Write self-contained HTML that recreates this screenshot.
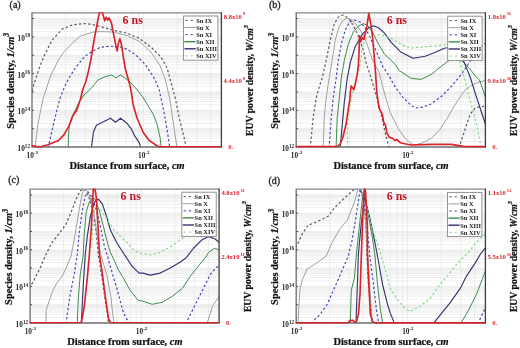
<!DOCTYPE html><html><head><meta charset="utf-8"><style>html,body{margin:0;padding:0;background:#fff;}svg{display:block}text{font-family:"Liberation Serif",serif;font-weight:bold}.t{stroke:#111;stroke-width:0.22px}</style></head><body><svg width="520" height="348" viewBox="0 0 520 348"><rect width="520" height="348" fill="#fff"/><defs><clipPath id="clipa"><rect x="32.0" y="12.9" width="189.4" height="134.1"/></clipPath><clipPath id="clipra"><rect x="31.4" y="12.1" width="190.0" height="135.7"/></clipPath></defs><g stroke="#dedede" stroke-width="0.5" fill="none"><line x1="32.0" y1="141.48" x2="221.4" y2="141.48"/><line x1="32.0" y1="138.24" x2="221.4" y2="138.24"/><line x1="32.0" y1="135.95" x2="221.4" y2="135.95"/><line x1="32.0" y1="134.17" x2="221.4" y2="134.17"/><line x1="32.0" y1="132.72" x2="221.4" y2="132.72"/><line x1="32.0" y1="131.49" x2="221.4" y2="131.49"/><line x1="32.0" y1="130.43" x2="221.4" y2="130.43"/><line x1="32.0" y1="129.49" x2="221.4" y2="129.49"/><line x1="32.0" y1="128.65" x2="221.4" y2="128.65"/><line x1="32.0" y1="123.13" x2="221.4" y2="123.13"/><line x1="32.0" y1="119.89" x2="221.4" y2="119.89"/><line x1="32.0" y1="117.60" x2="221.4" y2="117.60"/><line x1="32.0" y1="115.82" x2="221.4" y2="115.82"/><line x1="32.0" y1="114.37" x2="221.4" y2="114.37"/><line x1="32.0" y1="113.14" x2="221.4" y2="113.14"/><line x1="32.0" y1="112.08" x2="221.4" y2="112.08"/><line x1="32.0" y1="111.14" x2="221.4" y2="111.14"/><line x1="32.0" y1="110.30" x2="221.4" y2="110.30"/><line x1="32.0" y1="104.78" x2="221.4" y2="104.78"/><line x1="32.0" y1="101.54" x2="221.4" y2="101.54"/><line x1="32.0" y1="99.25" x2="221.4" y2="99.25"/><line x1="32.0" y1="97.47" x2="221.4" y2="97.47"/><line x1="32.0" y1="96.02" x2="221.4" y2="96.02"/><line x1="32.0" y1="94.79" x2="221.4" y2="94.79"/><line x1="32.0" y1="93.73" x2="221.4" y2="93.73"/><line x1="32.0" y1="92.79" x2="221.4" y2="92.79"/><line x1="32.0" y1="91.95" x2="221.4" y2="91.95"/><line x1="32.0" y1="86.43" x2="221.4" y2="86.43"/><line x1="32.0" y1="83.19" x2="221.4" y2="83.19"/><line x1="32.0" y1="80.90" x2="221.4" y2="80.90"/><line x1="32.0" y1="79.12" x2="221.4" y2="79.12"/><line x1="32.0" y1="77.67" x2="221.4" y2="77.67"/><line x1="32.0" y1="76.44" x2="221.4" y2="76.44"/><line x1="32.0" y1="75.38" x2="221.4" y2="75.38"/><line x1="32.0" y1="74.44" x2="221.4" y2="74.44"/><line x1="32.0" y1="73.60" x2="221.4" y2="73.60"/><line x1="32.0" y1="68.08" x2="221.4" y2="68.08"/><line x1="32.0" y1="64.84" x2="221.4" y2="64.84"/><line x1="32.0" y1="62.55" x2="221.4" y2="62.55"/><line x1="32.0" y1="60.77" x2="221.4" y2="60.77"/><line x1="32.0" y1="59.32" x2="221.4" y2="59.32"/><line x1="32.0" y1="58.09" x2="221.4" y2="58.09"/><line x1="32.0" y1="57.03" x2="221.4" y2="57.03"/><line x1="32.0" y1="56.09" x2="221.4" y2="56.09"/><line x1="32.0" y1="55.25" x2="221.4" y2="55.25"/><line x1="32.0" y1="49.73" x2="221.4" y2="49.73"/><line x1="32.0" y1="46.49" x2="221.4" y2="46.49"/><line x1="32.0" y1="44.20" x2="221.4" y2="44.20"/><line x1="32.0" y1="42.42" x2="221.4" y2="42.42"/><line x1="32.0" y1="40.97" x2="221.4" y2="40.97"/><line x1="32.0" y1="39.74" x2="221.4" y2="39.74"/><line x1="32.0" y1="38.68" x2="221.4" y2="38.68"/><line x1="32.0" y1="37.74" x2="221.4" y2="37.74"/><line x1="32.0" y1="36.90" x2="221.4" y2="36.90"/><line x1="32.0" y1="31.38" x2="221.4" y2="31.38"/><line x1="32.0" y1="28.14" x2="221.4" y2="28.14"/><line x1="32.0" y1="25.85" x2="221.4" y2="25.85"/><line x1="32.0" y1="24.07" x2="221.4" y2="24.07"/><line x1="32.0" y1="22.62" x2="221.4" y2="22.62"/><line x1="32.0" y1="21.39" x2="221.4" y2="21.39"/><line x1="32.0" y1="20.33" x2="221.4" y2="20.33"/><line x1="32.0" y1="19.39" x2="221.4" y2="19.39"/><line x1="32.0" y1="18.55" x2="221.4" y2="18.55"/><line x1="32.0" y1="13.03" x2="221.4" y2="13.03"/><line x1="65.56" y1="12.9" x2="65.56" y2="147.0"/><line x1="85.19" y1="12.9" x2="85.19" y2="147.0"/><line x1="99.12" y1="12.9" x2="99.12" y2="147.0"/><line x1="109.92" y1="12.9" x2="109.92" y2="147.0"/><line x1="118.75" y1="12.9" x2="118.75" y2="147.0"/><line x1="126.21" y1="12.9" x2="126.21" y2="147.0"/><line x1="132.68" y1="12.9" x2="132.68" y2="147.0"/><line x1="138.38" y1="12.9" x2="138.38" y2="147.0"/><line x1="143.48" y1="12.9" x2="143.48" y2="147.0"/><line x1="177.04" y1="12.9" x2="177.04" y2="147.0"/><line x1="196.67" y1="12.9" x2="196.67" y2="147.0"/><line x1="210.60" y1="12.9" x2="210.60" y2="147.0"/></g><g clip-path="url(#clipa)" fill="none" stroke-linejoin="round" stroke-linecap="butt"><path d="M32.0,91.0 L34.0,84.0 L36.0,78.0 L40.0,66.0 L44.0,56.3 L52.0,40.2 L62.2,29.1 L72.2,25.0 L84.3,23.5 L92.4,24.5 L102.4,27.1 L112.5,30.1 L126.6,33.1 L139.0,38.2 L151.1,47.2 L161.2,57.3 L167.2,68.3 L170.3,80.0 L175.3,98.1 L179.3,118.2 L184.3,138.4 L186.4,148.0" stroke="#606060" stroke-width="1.25" stroke-dasharray="2.4 2.2"/><path d="M35.0,148.0 L35.2,146.8 L37.8,124.8 L43.0,98.9 L50.7,75.5 L58.5,60.0 L63.0,53.0 L72.2,43.2 L80.3,36.2 L92.4,32.2 L100.4,31.6 L112.5,32.0 L127.0,35.5 L139.0,41.2 L151.1,52.3 L160.0,65.5 L165.5,80.0 L169.8,99.0 L173.2,122.0 L177.0,148.0" stroke="#a0a0a0" stroke-width="1.00"/><path d="M48.1,148.0 L53.3,124.8 L59.8,98.9 L64.0,88.0 L68.9,78.1 L75.0,68.5 L81.8,60.0 L84.8,56.3 L92.4,51.2 L100.4,47.2 L110.5,46.2 L120.5,47.2 L127.0,49.2 L135.0,54.3 L145.1,64.3 L153.2,76.4 L155.2,80.0 L159.2,90.1 L163.2,108.2 L167.2,130.3 L169.3,144.4 L169.8,148.0" stroke="#4848b8" stroke-width="1.20" stroke-dasharray="2.4 2.2"/><path d="M68.2,148.0 L68.5,135.0 L69.2,126.3 L74.3,112.2 L80.3,100.1 L85.0,94.0 L91.9,87.7 L97.7,80.2 L102.3,77.9 L106.9,76.1 L111.5,75.0 L116.1,77.9 L120.2,75.0 L124.2,77.3 L127.7,80.2 L132.3,84.2 L138.1,91.1 L142.7,96.9 L147.1,104.2 L153.2,114.2 L157.2,124.3 L160.2,138.4 L161.2,148.0" stroke="#3f8a4f" stroke-width="1.00"/><path d="M91.4,148.0 L93.4,132.3 L96.4,125.3 L102.4,122.3 L110.5,118.2 L115.5,122.3 L120.5,118.2 L127.0,123.3 L131.0,128.3 L135.0,136.4 L139.1,142.4 L141.1,148.0" stroke="#33336f" stroke-width="1.15"/></g><path d="M31.4,12.9 H221.4" stroke="#8a8a8a" stroke-width="1.3" fill="none"/><path d="M32.0,12.9 V147.0 H221.4" stroke="#6e6e6e" stroke-width="1.3" fill="none"/><path d="M221.4,12.3 V147.6" stroke="#3c3c3c" stroke-width="1.3" fill="none"/><path clip-path="url(#clipra)" fill="none" stroke-linejoin="round" d="M31.0,145.5 L36.0,146.4 L40.4,146.7 L48.1,144.8 L58.5,140.5 L63.7,135.1 L68.9,126.1 L72.7,115.7 L76.6,110.5 L80.5,98.9 L83.1,88.5 L85.7,82.0 L88.3,71.7 L90.8,60.0 L93.6,43.0 L96.5,27.2 L98.7,15.7 L99.8,12.0 L102.3,12.0 L103.3,15.7 L104.7,20.8 L106.1,17.2 L107.6,20.0 L109.0,17.9 L110.5,20.8 L111.6,23.5 L113.0,31.6 L114.5,38.7 L115.9,45.9 L117.1,50.9 L118.5,43.0 L119.9,38.7 L121.4,44.5 L122.8,53.1 L123.8,60.0 L125.4,69.2 L127.7,77.3 L130.0,85.4 L131.7,94.6 L133.0,104.2 L137.1,118.2 L143.1,132.3 L149.1,140.4 L157.2,146.0 L160.0,146.7 L223.0,146.7" stroke="#dc2229" stroke-width="1.65"/><line x1="32.0" y1="128.65" x2="34.0" y2="128.65" stroke="#505050" stroke-width="1"/><line x1="32.0" y1="110.30" x2="34.0" y2="110.30" stroke="#505050" stroke-width="1"/><line x1="32.0" y1="91.95" x2="34.0" y2="91.95" stroke="#505050" stroke-width="1"/><line x1="32.0" y1="73.60" x2="34.0" y2="73.60" stroke="#505050" stroke-width="1"/><line x1="32.0" y1="55.25" x2="34.0" y2="55.25" stroke="#505050" stroke-width="1"/><line x1="32.0" y1="36.90" x2="34.0" y2="36.90" stroke="#505050" stroke-width="1"/><line x1="32.0" y1="18.55" x2="34.0" y2="18.55" stroke="#505050" stroke-width="1"/><text x="30.0" y="150.9" font-size="7.3" text-anchor="end" fill="#2a2a2a">10<tspan font-size="5.2" dy="-3.4">12</tspan></text><text x="30.0" y="114.2" font-size="7.3" text-anchor="end" fill="#2a2a2a">10<tspan font-size="5.2" dy="-3.4">14</tspan></text><text x="30.0" y="77.5" font-size="7.3" text-anchor="end" fill="#2a2a2a">10<tspan font-size="5.2" dy="-3.4">16</tspan></text><text x="30.0" y="40.8" font-size="7.3" text-anchor="end" fill="#2a2a2a">10<tspan font-size="5.2" dy="-3.4">18</tspan></text><text x="32.3" y="157.8" font-size="7.3" text-anchor="middle" fill="#2a2a2a">10<tspan font-size="5.0" dy="-3.4">-3</tspan></text><text x="143.8" y="157.8" font-size="7.3" text-anchor="middle" fill="#2a2a2a">10<tspan font-size="5.0" dy="-3.4">-2</tspan></text><text x="223.7" y="18.5" font-size="6.6" fill="#dc1f2c">8.8x10<tspan font-size="4.8" dx="0.9" dy="-3.1">9</tspan></text><text x="223.6" y="83.0" font-size="6.6" fill="#dc1f2c">4.4x10<tspan font-size="4.8" dx="0.9" dy="-3.1">9</tspan></text><text x="228.2" y="148.5" font-size="6.6" fill="#dc1f2c">0.</text><rect x="183.5" y="16.0" width="34.4" height="44.2" fill="#fff" stroke="#888" stroke-width="0.9"/><line x1="185.4" y1="20.4" x2="187.6" y2="20.4" stroke="#606060" stroke-width="1.1"/><line x1="190.6" y1="20.4" x2="192.8" y2="20.4" stroke="#606060" stroke-width="1.1"/><text x="196.3" y="22.7" font-size="6.4" fill="#222">Sn IX</text><line x1="184.4" y1="27.5" x2="195.7" y2="27.5" stroke="#a0a0a0" stroke-width="1.0"/><text x="196.3" y="29.8" font-size="6.4" fill="#222">Sn X</text><line x1="185.4" y1="34.6" x2="187.6" y2="34.6" stroke="#4848b8" stroke-width="1.1"/><line x1="190.6" y1="34.6" x2="192.8" y2="34.6" stroke="#4848b8" stroke-width="1.1"/><text x="196.3" y="36.9" font-size="6.4" fill="#222">Sn XI</text><line x1="184.4" y1="41.7" x2="195.7" y2="41.7" stroke="#3f8a4f" stroke-width="1.4"/><text x="196.3" y="44.0" font-size="6.4" fill="#222">Sn XII</text><line x1="184.4" y1="48.8" x2="195.7" y2="48.8" stroke="#33336f" stroke-width="1.4"/><text x="196.3" y="51.1" font-size="6.4" fill="#222">Sn XIII</text><line x1="185.4" y1="55.9" x2="187.6" y2="55.9" stroke="#90d890" stroke-width="1.1"/><line x1="190.6" y1="55.9" x2="192.8" y2="55.9" stroke="#90d890" stroke-width="1.1"/><text x="196.3" y="58.2" font-size="6.4" fill="#222">Sn XIV</text><text x="122.5" y="23.7" font-size="12" fill="#c8182a">6 ns</text><defs><clipPath id="clipb"><rect x="296.2" y="12.9" width="189.2" height="134.1"/></clipPath><clipPath id="cliprb"><rect x="295.6" y="12.1" width="189.8" height="135.7"/></clipPath></defs><g stroke="#dedede" stroke-width="0.5" fill="none"><line x1="296.2" y1="141.48" x2="485.4" y2="141.48"/><line x1="296.2" y1="138.24" x2="485.4" y2="138.24"/><line x1="296.2" y1="135.95" x2="485.4" y2="135.95"/><line x1="296.2" y1="134.17" x2="485.4" y2="134.17"/><line x1="296.2" y1="132.72" x2="485.4" y2="132.72"/><line x1="296.2" y1="131.49" x2="485.4" y2="131.49"/><line x1="296.2" y1="130.43" x2="485.4" y2="130.43"/><line x1="296.2" y1="129.49" x2="485.4" y2="129.49"/><line x1="296.2" y1="128.65" x2="485.4" y2="128.65"/><line x1="296.2" y1="123.13" x2="485.4" y2="123.13"/><line x1="296.2" y1="119.89" x2="485.4" y2="119.89"/><line x1="296.2" y1="117.60" x2="485.4" y2="117.60"/><line x1="296.2" y1="115.82" x2="485.4" y2="115.82"/><line x1="296.2" y1="114.37" x2="485.4" y2="114.37"/><line x1="296.2" y1="113.14" x2="485.4" y2="113.14"/><line x1="296.2" y1="112.08" x2="485.4" y2="112.08"/><line x1="296.2" y1="111.14" x2="485.4" y2="111.14"/><line x1="296.2" y1="110.30" x2="485.4" y2="110.30"/><line x1="296.2" y1="104.78" x2="485.4" y2="104.78"/><line x1="296.2" y1="101.54" x2="485.4" y2="101.54"/><line x1="296.2" y1="99.25" x2="485.4" y2="99.25"/><line x1="296.2" y1="97.47" x2="485.4" y2="97.47"/><line x1="296.2" y1="96.02" x2="485.4" y2="96.02"/><line x1="296.2" y1="94.79" x2="485.4" y2="94.79"/><line x1="296.2" y1="93.73" x2="485.4" y2="93.73"/><line x1="296.2" y1="92.79" x2="485.4" y2="92.79"/><line x1="296.2" y1="91.95" x2="485.4" y2="91.95"/><line x1="296.2" y1="86.43" x2="485.4" y2="86.43"/><line x1="296.2" y1="83.19" x2="485.4" y2="83.19"/><line x1="296.2" y1="80.90" x2="485.4" y2="80.90"/><line x1="296.2" y1="79.12" x2="485.4" y2="79.12"/><line x1="296.2" y1="77.67" x2="485.4" y2="77.67"/><line x1="296.2" y1="76.44" x2="485.4" y2="76.44"/><line x1="296.2" y1="75.38" x2="485.4" y2="75.38"/><line x1="296.2" y1="74.44" x2="485.4" y2="74.44"/><line x1="296.2" y1="73.60" x2="485.4" y2="73.60"/><line x1="296.2" y1="68.08" x2="485.4" y2="68.08"/><line x1="296.2" y1="64.84" x2="485.4" y2="64.84"/><line x1="296.2" y1="62.55" x2="485.4" y2="62.55"/><line x1="296.2" y1="60.77" x2="485.4" y2="60.77"/><line x1="296.2" y1="59.32" x2="485.4" y2="59.32"/><line x1="296.2" y1="58.09" x2="485.4" y2="58.09"/><line x1="296.2" y1="57.03" x2="485.4" y2="57.03"/><line x1="296.2" y1="56.09" x2="485.4" y2="56.09"/><line x1="296.2" y1="55.25" x2="485.4" y2="55.25"/><line x1="296.2" y1="49.73" x2="485.4" y2="49.73"/><line x1="296.2" y1="46.49" x2="485.4" y2="46.49"/><line x1="296.2" y1="44.20" x2="485.4" y2="44.20"/><line x1="296.2" y1="42.42" x2="485.4" y2="42.42"/><line x1="296.2" y1="40.97" x2="485.4" y2="40.97"/><line x1="296.2" y1="39.74" x2="485.4" y2="39.74"/><line x1="296.2" y1="38.68" x2="485.4" y2="38.68"/><line x1="296.2" y1="37.74" x2="485.4" y2="37.74"/><line x1="296.2" y1="36.90" x2="485.4" y2="36.90"/><line x1="296.2" y1="31.38" x2="485.4" y2="31.38"/><line x1="296.2" y1="28.14" x2="485.4" y2="28.14"/><line x1="296.2" y1="25.85" x2="485.4" y2="25.85"/><line x1="296.2" y1="24.07" x2="485.4" y2="24.07"/><line x1="296.2" y1="22.62" x2="485.4" y2="22.62"/><line x1="296.2" y1="21.39" x2="485.4" y2="21.39"/><line x1="296.2" y1="20.33" x2="485.4" y2="20.33"/><line x1="296.2" y1="19.39" x2="485.4" y2="19.39"/><line x1="296.2" y1="18.55" x2="485.4" y2="18.55"/><line x1="296.2" y1="13.03" x2="485.4" y2="13.03"/><line x1="329.72" y1="12.9" x2="329.72" y2="147.0"/><line x1="349.33" y1="12.9" x2="349.33" y2="147.0"/><line x1="363.25" y1="12.9" x2="363.25" y2="147.0"/><line x1="374.04" y1="12.9" x2="374.04" y2="147.0"/><line x1="382.86" y1="12.9" x2="382.86" y2="147.0"/><line x1="390.31" y1="12.9" x2="390.31" y2="147.0"/><line x1="396.77" y1="12.9" x2="396.77" y2="147.0"/><line x1="402.47" y1="12.9" x2="402.47" y2="147.0"/><line x1="407.56" y1="12.9" x2="407.56" y2="147.0"/><line x1="441.08" y1="12.9" x2="441.08" y2="147.0"/><line x1="460.69" y1="12.9" x2="460.69" y2="147.0"/><line x1="474.61" y1="12.9" x2="474.61" y2="147.0"/></g><g clip-path="url(#clipb)" fill="none" stroke-linejoin="round" stroke-linecap="butt"><path d="M310.1,148.0 L311.1,138.4 L313.1,118.2 L316.1,98.1 L319.5,86.0 L322.2,78.0 L326.2,60.3 L330.2,40.2 L334.2,24.1 L338.3,17.0 L343.3,15.0 L348.3,18.0 L353.3,25.1 L358.4,36.2 L363.5,50.5 L366.2,63.0 L369.2,72.0 L373.9,87.6 L376.5,96.0 L381.3,114.7 L385.7,134.9 L389.1,147.9" stroke="#606060" stroke-width="1.25" stroke-dasharray="2.4 2.2"/><path d="M458.4,148.0 L459.8,145.3 L464.9,129.8 L470.1,114.3 L475.3,107.8 L483.0,106.5 L487.0,106.0" stroke="#606060" stroke-width="1.25" stroke-dasharray="2.4 2.2"/><path d="M323.0,148.0 L323.2,146.4 L324.2,118.2 L326.2,98.1 L328.2,84.0 L329.6,76.0 L332.2,60.3 L335.2,40.2 L339.3,26.1 L343.3,20.1 L347.3,18.0 L352.3,20.1 L357.4,26.1 L362.4,33.5 L366.4,42.4 L372.4,59.7 L379.0,72.0 L383.5,90.0 L390.2,112.5 L398.0,128.2 L405.9,139.4 L413.7,145.0 L421.2,143.4 L431.2,138.4 L439.3,130.3 L447.3,118.2 L455.4,104.2 L463.4,92.1 L471.5,85.0 L479.5,82.0 L487.0,80.0" stroke="#a0a0a0" stroke-width="1.00"/><path d="M329.0,148.0 L329.2,146.4 L331.2,118.2 L333.2,98.1 L336.2,78.0 L338.3,60.3 L341.3,44.2 L345.3,30.1 L349.3,22.1 L354.4,20.1 L360.4,22.1 L365.4,28.1 L371.5,40.2 L377.5,54.3 L382.5,66.0 L386.8,72.2 L395.8,87.9 L402.5,96.8 L411.5,105.8 L416.0,108.0 L423.2,107.0 L431.0,104.0 L441.7,96.2 L452.0,85.8 L462.4,72.9 L467.5,65.2 L472.0,58.0 L478.0,50.0 L487.0,42.0" stroke="#4848b8" stroke-width="1.20" stroke-dasharray="2.4 2.2"/><path d="M336.0,148.0 L336.2,144.4 L337.2,118.2 L339.3,98.1 L341.3,78.0 L344.3,60.3 L348.3,44.2 L353.3,32.1 L358.4,26.1 L363.4,23.7 L367.4,25.1 L372.5,32.1 L378.5,44.2 L384.5,54.3 L390.7,60.0 L395.9,65.2 L399.0,70.4 L411.1,78.4 L421.2,79.4 L431.2,74.4 L441.3,66.3 L449.3,60.3 L455.4,58.3 L461.4,60.3 L469.5,68.3 L475.5,76.4 L479.5,80.0 L483.0,90.0 L487.0,102.0" stroke="#3f8a4f" stroke-width="1.00"/><path d="M340.0,148.0 L340.3,146.4 L342.3,124.3 L344.3,102.1 L347.3,78.0 L350.3,62.3 L355.4,46.2 L362.4,34.1 L368.4,28.1 L373.5,25.7 L378.5,27.7 L384.5,33.1 L391.0,42.2 L401.1,52.3 L413.1,58.3 L425.2,56.3 L435.3,52.3 L444.3,48.2 L452.0,47.0 L458.0,50.0 L462.4,58.3 L467.5,70.4 L470.5,78.0 L475.5,94.1 L481.5,112.2 L487.0,129.0" stroke="#33336f" stroke-width="1.15"/><path d="M347.5,148.0 L347.5,126.0 L349.0,110.0 L352.0,95.0 L356.0,80.0 L358.8,70.0 L361.4,56.6 L362.0,46.0 L366.0,39.0 L372.0,35.5 L380.0,34.5 L391.0,38.2 L401.1,44.2 L411.1,48.2 L421.2,47.2 L431.2,46.2 L441.3,45.2 L449.3,44.2 L455.0,46.0 L458.0,52.0 L461.4,68.3 L464.4,78.0 L468.5,94.1 L473.5,112.2 L477.5,128.3 L480.5,144.4 L481.0,148.0" stroke="#90d890" stroke-width="1.25" stroke-dasharray="2.4 2.2"/></g><path d="M295.6,12.9 H485.4" stroke="#8a8a8a" stroke-width="1.3" fill="none"/><path d="M296.2,12.9 V147.0 H485.4" stroke="#6e6e6e" stroke-width="1.3" fill="none"/><path d="M485.4,12.3 V147.6" stroke="#3c3c3c" stroke-width="1.3" fill="none"/><path clip-path="url(#cliprb)" fill="none" stroke-linejoin="round" d="M295.0,146.6 L337.0,146.4 L340.0,144.4 L342.6,138.3 L346.0,124.5 L348.6,107.2 L349.8,100.0 L350.4,92.2 L351.2,85.9 L353.8,89.9 L355.5,83.0 L357.3,73.8 L358.4,64.6 L359.0,53.0 L359.5,35.9 L360.5,41.9 L362.2,37.6 L364.0,39.3 L366.4,29.1 L368.8,13.5 L370.8,24.1 L372.5,36.2 L374.5,60.3 L375.5,72.0 L376.8,92.4 L379.0,108.0 L382.4,114.7 L383.5,121.5 L385.7,125.9 L386.8,132.6 L389.1,137.1 L392.4,138.2 L394.7,140.5 L396.5,139.5 L400.3,142.7 L404.7,143.8 L411.5,145.0 L431.2,144.4 L451.4,144.4 L463.4,146.4 L487.0,146.6" stroke="#dc2229" stroke-width="1.65"/><line x1="296.2" y1="128.65" x2="298.2" y2="128.65" stroke="#505050" stroke-width="1"/><line x1="296.2" y1="110.30" x2="298.2" y2="110.30" stroke="#505050" stroke-width="1"/><line x1="296.2" y1="91.95" x2="298.2" y2="91.95" stroke="#505050" stroke-width="1"/><line x1="296.2" y1="73.60" x2="298.2" y2="73.60" stroke="#505050" stroke-width="1"/><line x1="296.2" y1="55.25" x2="298.2" y2="55.25" stroke="#505050" stroke-width="1"/><line x1="296.2" y1="36.90" x2="298.2" y2="36.90" stroke="#505050" stroke-width="1"/><line x1="296.2" y1="18.55" x2="298.2" y2="18.55" stroke="#505050" stroke-width="1"/><text x="294.2" y="150.9" font-size="7.3" text-anchor="end" fill="#2a2a2a">10<tspan font-size="5.2" dy="-3.4">12</tspan></text><text x="294.2" y="114.2" font-size="7.3" text-anchor="end" fill="#2a2a2a">10<tspan font-size="5.2" dy="-3.4">14</tspan></text><text x="294.2" y="77.5" font-size="7.3" text-anchor="end" fill="#2a2a2a">10<tspan font-size="5.2" dy="-3.4">16</tspan></text><text x="294.2" y="40.8" font-size="7.3" text-anchor="end" fill="#2a2a2a">10<tspan font-size="5.2" dy="-3.4">18</tspan></text><text x="296.5" y="157.8" font-size="7.3" text-anchor="middle" fill="#2a2a2a">10<tspan font-size="5.0" dy="-3.4">-3</tspan></text><text x="407.9" y="157.8" font-size="7.3" text-anchor="middle" fill="#2a2a2a">10<tspan font-size="5.0" dy="-3.4">-2</tspan></text><text x="487.7" y="18.5" font-size="6.6" fill="#dc1f2c">1.8x10<tspan font-size="4.8" dx="0.9" dy="-3.1">11</tspan></text><text x="487.6" y="83.0" font-size="6.6" fill="#dc1f2c">9.0x10<tspan font-size="4.8" dx="0.9" dy="-3.1">10</tspan></text><text x="492.2" y="148.5" font-size="6.6" fill="#dc1f2c">0.</text><rect x="447.7" y="16.2" width="34.4" height="44.2" fill="#fff" stroke="#888" stroke-width="0.9"/><line x1="449.6" y1="20.6" x2="451.8" y2="20.6" stroke="#606060" stroke-width="1.1"/><line x1="454.8" y1="20.6" x2="457.0" y2="20.6" stroke="#606060" stroke-width="1.1"/><text x="460.5" y="22.9" font-size="6.4" fill="#222">Sn IX</text><line x1="448.6" y1="27.7" x2="459.9" y2="27.7" stroke="#a0a0a0" stroke-width="1.0"/><text x="460.5" y="30.0" font-size="6.4" fill="#222">Sn X</text><line x1="449.6" y1="34.8" x2="451.8" y2="34.8" stroke="#4848b8" stroke-width="1.1"/><line x1="454.8" y1="34.8" x2="457.0" y2="34.8" stroke="#4848b8" stroke-width="1.1"/><text x="460.5" y="37.1" font-size="6.4" fill="#222">Sn XI</text><line x1="448.6" y1="41.9" x2="459.9" y2="41.9" stroke="#3f8a4f" stroke-width="1.4"/><text x="460.5" y="44.2" font-size="6.4" fill="#222">Sn XII</text><line x1="448.6" y1="49.0" x2="459.9" y2="49.0" stroke="#33336f" stroke-width="1.4"/><text x="460.5" y="51.3" font-size="6.4" fill="#222">Sn XIII</text><line x1="449.6" y1="56.1" x2="451.8" y2="56.1" stroke="#90d890" stroke-width="1.1"/><line x1="454.8" y1="56.1" x2="457.0" y2="56.1" stroke="#90d890" stroke-width="1.1"/><text x="460.5" y="58.4" font-size="6.4" fill="#222">Sn XIV</text><text x="386.7" y="23.7" font-size="12" fill="#c8182a">6 ns</text><defs><clipPath id="clipc"><rect x="30.1" y="189.2" width="189.0" height="133.8"/></clipPath><clipPath id="cliprc"><rect x="29.5" y="188.4" width="189.6" height="135.4"/></clipPath></defs><g stroke="#dedede" stroke-width="0.5" fill="none"><line x1="30.1" y1="317.49" x2="219.1" y2="317.49"/><line x1="30.1" y1="314.27" x2="219.1" y2="314.27"/><line x1="30.1" y1="311.98" x2="219.1" y2="311.98"/><line x1="30.1" y1="310.21" x2="219.1" y2="310.21"/><line x1="30.1" y1="308.76" x2="219.1" y2="308.76"/><line x1="30.1" y1="307.53" x2="219.1" y2="307.53"/><line x1="30.1" y1="306.47" x2="219.1" y2="306.47"/><line x1="30.1" y1="305.54" x2="219.1" y2="305.54"/><line x1="30.1" y1="304.70" x2="219.1" y2="304.70"/><line x1="30.1" y1="299.19" x2="219.1" y2="299.19"/><line x1="30.1" y1="295.97" x2="219.1" y2="295.97"/><line x1="30.1" y1="293.68" x2="219.1" y2="293.68"/><line x1="30.1" y1="291.91" x2="219.1" y2="291.91"/><line x1="30.1" y1="290.46" x2="219.1" y2="290.46"/><line x1="30.1" y1="289.23" x2="219.1" y2="289.23"/><line x1="30.1" y1="288.17" x2="219.1" y2="288.17"/><line x1="30.1" y1="287.24" x2="219.1" y2="287.24"/><line x1="30.1" y1="286.40" x2="219.1" y2="286.40"/><line x1="30.1" y1="280.89" x2="219.1" y2="280.89"/><line x1="30.1" y1="277.67" x2="219.1" y2="277.67"/><line x1="30.1" y1="275.38" x2="219.1" y2="275.38"/><line x1="30.1" y1="273.61" x2="219.1" y2="273.61"/><line x1="30.1" y1="272.16" x2="219.1" y2="272.16"/><line x1="30.1" y1="270.93" x2="219.1" y2="270.93"/><line x1="30.1" y1="269.87" x2="219.1" y2="269.87"/><line x1="30.1" y1="268.94" x2="219.1" y2="268.94"/><line x1="30.1" y1="268.10" x2="219.1" y2="268.10"/><line x1="30.1" y1="262.59" x2="219.1" y2="262.59"/><line x1="30.1" y1="259.37" x2="219.1" y2="259.37"/><line x1="30.1" y1="257.08" x2="219.1" y2="257.08"/><line x1="30.1" y1="255.31" x2="219.1" y2="255.31"/><line x1="30.1" y1="253.86" x2="219.1" y2="253.86"/><line x1="30.1" y1="252.63" x2="219.1" y2="252.63"/><line x1="30.1" y1="251.57" x2="219.1" y2="251.57"/><line x1="30.1" y1="250.64" x2="219.1" y2="250.64"/><line x1="30.1" y1="249.80" x2="219.1" y2="249.80"/><line x1="30.1" y1="244.29" x2="219.1" y2="244.29"/><line x1="30.1" y1="241.07" x2="219.1" y2="241.07"/><line x1="30.1" y1="238.78" x2="219.1" y2="238.78"/><line x1="30.1" y1="237.01" x2="219.1" y2="237.01"/><line x1="30.1" y1="235.56" x2="219.1" y2="235.56"/><line x1="30.1" y1="234.33" x2="219.1" y2="234.33"/><line x1="30.1" y1="233.27" x2="219.1" y2="233.27"/><line x1="30.1" y1="232.34" x2="219.1" y2="232.34"/><line x1="30.1" y1="231.50" x2="219.1" y2="231.50"/><line x1="30.1" y1="225.99" x2="219.1" y2="225.99"/><line x1="30.1" y1="222.77" x2="219.1" y2="222.77"/><line x1="30.1" y1="220.48" x2="219.1" y2="220.48"/><line x1="30.1" y1="218.71" x2="219.1" y2="218.71"/><line x1="30.1" y1="217.26" x2="219.1" y2="217.26"/><line x1="30.1" y1="216.03" x2="219.1" y2="216.03"/><line x1="30.1" y1="214.97" x2="219.1" y2="214.97"/><line x1="30.1" y1="214.04" x2="219.1" y2="214.04"/><line x1="30.1" y1="213.20" x2="219.1" y2="213.20"/><line x1="30.1" y1="207.69" x2="219.1" y2="207.69"/><line x1="30.1" y1="204.47" x2="219.1" y2="204.47"/><line x1="30.1" y1="202.18" x2="219.1" y2="202.18"/><line x1="30.1" y1="200.41" x2="219.1" y2="200.41"/><line x1="30.1" y1="198.96" x2="219.1" y2="198.96"/><line x1="30.1" y1="197.73" x2="219.1" y2="197.73"/><line x1="30.1" y1="196.67" x2="219.1" y2="196.67"/><line x1="30.1" y1="195.74" x2="219.1" y2="195.74"/><line x1="30.1" y1="194.90" x2="219.1" y2="194.90"/><line x1="30.1" y1="189.39" x2="219.1" y2="189.39"/><line x1="63.59" y1="189.2" x2="63.59" y2="323.0"/><line x1="83.18" y1="189.2" x2="83.18" y2="323.0"/><line x1="97.08" y1="189.2" x2="97.08" y2="323.0"/><line x1="107.86" y1="189.2" x2="107.86" y2="323.0"/><line x1="116.66" y1="189.2" x2="116.66" y2="323.0"/><line x1="124.11" y1="189.2" x2="124.11" y2="323.0"/><line x1="130.56" y1="189.2" x2="130.56" y2="323.0"/><line x1="136.25" y1="189.2" x2="136.25" y2="323.0"/><line x1="141.34" y1="189.2" x2="141.34" y2="323.0"/><line x1="174.83" y1="189.2" x2="174.83" y2="323.0"/><line x1="194.42" y1="189.2" x2="194.42" y2="323.0"/><line x1="208.32" y1="189.2" x2="208.32" y2="323.0"/></g><g clip-path="url(#clipc)" fill="none" stroke-linejoin="round" stroke-linecap="butt"><path d="M29.0,288.0 L30.0,287.2 L34.0,280.2 L40.1,268.1 L46.1,254.0 L52.1,242.3 L60.2,232.3 L66.0,224.2 L71.1,212.2 L76.1,199.1 L80.1,191.0 L83.1,189.0 L85.5,190.0 L89.2,198.1 L93.2,212.2 L96.2,232.3 L98.2,254.0 L101.4,274.1 L104.4,294.2 L107.5,314.4 L108.7,324.0" stroke="#606060" stroke-width="1.25" stroke-dasharray="2.4 2.2"/><path d="M46.1,324.0 L46.1,310.3 L48.1,304.3 L52.1,292.2 L56.2,284.2 L62.2,276.1 L66.2,268.1 L68.5,262.0 L71.1,256.0 L75.1,234.3 L79.1,210.1 L82.1,194.0 L84.1,189.6 L87.2,191.0 L91.2,200.1 L95.2,220.2 L98.2,242.3 L100.2,252.0 L102.4,260.0 L106.5,274.1 L110.5,294.2 L113.5,320.4 L114.0,324.0" stroke="#a0a0a0" stroke-width="1.00"/><path d="M206.5,324.0 L207.5,322.4 L212.5,306.3 L220.0,295.0" stroke="#a0a0a0" stroke-width="1.00"/><path d="M66.0,324.0 L66.2,322.4 L67.2,314.4 L70.2,294.2 L74.3,274.1 L77.3,254.0 L79.3,232.3 L82.3,210.1 L85.3,196.1 L88.4,192.0 L92.4,198.1 L96.4,210.1 L100.4,226.2 L104.4,246.4 L107.5,256.0 L112.5,274.1 L118.5,294.2 L122.6,310.3 L126.0,318.0 L129.0,322.0 L130.0,324.0" stroke="#4848b8" stroke-width="1.20" stroke-dasharray="2.4 2.2"/><path d="M185.5,324.0 L186.4,322.4 L194.4,306.3 L202.5,290.2 L210.5,274.1 L216.6,267.1 L220.0,266.0" stroke="#4848b8" stroke-width="1.20" stroke-dasharray="2.4 2.2"/><path d="M77.0,324.0 L77.3,322.4 L78.3,298.3 L80.3,274.1 L83.1,256.0 L84.1,236.3 L86.2,212.2 L89.2,202.1 L92.2,198.1 L95.2,199.1 L99.2,210.1 L103.3,226.2 L107.3,242.3 L110.3,252.0 L113.5,259.0 L118.5,270.1 L124.0,279.2 L130.0,290.2 L138.1,300.3 L143.1,301.3 L152.2,304.3 L162.2,302.3 L172.3,296.3 L182.4,288.2 L190.4,276.1 L198.4,266.1 L206.5,256.0 L208.5,252.4 L214.5,248.4 L220.0,250.0" stroke="#3f8a4f" stroke-width="1.00"/><path d="M81.0,324.0 L81.3,322.4 L83.3,284.2 L85.3,254.0 L87.3,236.3 L90.4,216.2 L94.4,202.1 L98.4,199.1 L102.4,204.1 L106.5,216.2 L110.5,230.3 L116.5,242.3 L124.0,254.0 L132.0,266.1 L139.1,273.1 L143.1,273.1 L150.2,275.1 L160.2,273.1 L170.3,268.1 L180.3,262.0 L186.0,258.0 L193.3,248.5 L201.9,239.9 L208.4,236.6 L214.8,238.8 L220.0,243.1" stroke="#33336f" stroke-width="1.15"/><path d="M92.0,240.0 L94.0,212.0 L96.2,205.0 L101.0,210.0 L106.3,218.2 L114.3,230.3 L122.4,238.3 L126.0,241.5 L132.0,248.4 L140.1,253.4 L150.2,254.8 L158.8,253.0 L169.6,247.4 L180.3,239.9 L190.0,233.0 L200.0,228.0 L210.0,226.0 L220.0,227.0" stroke="#90d890" stroke-width="1.25" stroke-dasharray="2.4 2.2"/></g><path d="M29.5,189.2 H219.1" stroke="#8a8a8a" stroke-width="1.3" fill="none"/><path d="M30.1,189.2 V323.0 H219.1" stroke="#6e6e6e" stroke-width="1.3" fill="none"/><path d="M219.1,188.6 V323.6" stroke="#3c3c3c" stroke-width="1.3" fill="none"/><path clip-path="url(#cliprc)" fill="none" stroke-linejoin="round" d="M29.0,322.8 L81.3,322.5 L84.3,306.3 L87.3,278.1 L89.4,254.0 L90.4,240.0 L91.4,226.2 L92.8,198.1 L93.4,188.0 L94.8,188.0 L96.4,198.1 L98.0,226.2 L99.4,254.0 L102.4,274.1 L105.5,298.3 L108.5,318.4 L110.5,322.5 L220.0,322.8" stroke="#dc2229" stroke-width="1.65"/><line x1="30.1" y1="304.70" x2="32.1" y2="304.70" stroke="#505050" stroke-width="1"/><line x1="30.1" y1="286.40" x2="32.1" y2="286.40" stroke="#505050" stroke-width="1"/><line x1="30.1" y1="268.10" x2="32.1" y2="268.10" stroke="#505050" stroke-width="1"/><line x1="30.1" y1="249.80" x2="32.1" y2="249.80" stroke="#505050" stroke-width="1"/><line x1="30.1" y1="231.50" x2="32.1" y2="231.50" stroke="#505050" stroke-width="1"/><line x1="30.1" y1="213.20" x2="32.1" y2="213.20" stroke="#505050" stroke-width="1"/><line x1="30.1" y1="194.90" x2="32.1" y2="194.90" stroke="#505050" stroke-width="1"/><text x="28.1" y="326.9" font-size="7.3" text-anchor="end" fill="#2a2a2a">10<tspan font-size="5.2" dy="-3.4">12</tspan></text><text x="28.1" y="290.3" font-size="7.3" text-anchor="end" fill="#2a2a2a">10<tspan font-size="5.2" dy="-3.4">14</tspan></text><text x="28.1" y="253.7" font-size="7.3" text-anchor="end" fill="#2a2a2a">10<tspan font-size="5.2" dy="-3.4">16</tspan></text><text x="28.1" y="217.1" font-size="7.3" text-anchor="end" fill="#2a2a2a">10<tspan font-size="5.2" dy="-3.4">18</tspan></text><text x="30.4" y="333.8" font-size="7.3" text-anchor="middle" fill="#2a2a2a">10<tspan font-size="5.0" dy="-3.4">-3</tspan></text><text x="141.6" y="333.8" font-size="7.3" text-anchor="middle" fill="#2a2a2a">10<tspan font-size="5.0" dy="-3.4">-2</tspan></text><text x="221.4" y="194.8" font-size="6.6" fill="#dc1f2c">4.8x10<tspan font-size="4.8" dx="0.9" dy="-3.1">11</tspan></text><text x="221.3" y="259.1" font-size="6.6" fill="#dc1f2c">2.4x10<tspan font-size="4.8" dx="0.9" dy="-3.1">11</tspan></text><text x="225.9" y="324.5" font-size="6.6" fill="#dc1f2c">0.</text><rect x="181.8" y="192.2" width="34.4" height="44.2" fill="#fff" stroke="#888" stroke-width="0.9"/><line x1="183.7" y1="196.6" x2="185.9" y2="196.6" stroke="#606060" stroke-width="1.1"/><line x1="188.9" y1="196.6" x2="191.1" y2="196.6" stroke="#606060" stroke-width="1.1"/><text x="194.6" y="198.9" font-size="6.4" fill="#222">Sn IX</text><line x1="182.7" y1="203.7" x2="194.0" y2="203.7" stroke="#a0a0a0" stroke-width="1.0"/><text x="194.6" y="206.0" font-size="6.4" fill="#222">Sn X</text><line x1="183.7" y1="210.8" x2="185.9" y2="210.8" stroke="#4848b8" stroke-width="1.1"/><line x1="188.9" y1="210.8" x2="191.1" y2="210.8" stroke="#4848b8" stroke-width="1.1"/><text x="194.6" y="213.1" font-size="6.4" fill="#222">Sn XI</text><line x1="182.7" y1="217.9" x2="194.0" y2="217.9" stroke="#3f8a4f" stroke-width="1.4"/><text x="194.6" y="220.2" font-size="6.4" fill="#222">Sn XII</text><line x1="182.7" y1="225.0" x2="194.0" y2="225.0" stroke="#33336f" stroke-width="1.4"/><text x="194.6" y="227.3" font-size="6.4" fill="#222">Sn XIII</text><line x1="183.7" y1="232.1" x2="185.9" y2="232.1" stroke="#90d890" stroke-width="1.1"/><line x1="188.9" y1="232.1" x2="191.1" y2="232.1" stroke="#90d890" stroke-width="1.1"/><text x="194.6" y="234.4" font-size="6.4" fill="#222">Sn XIV</text><text x="120.6" y="200.0" font-size="12" fill="#c8182a">6 ns</text><defs><clipPath id="clipd"><rect x="296.2" y="189.2" width="189.2" height="133.8"/></clipPath><clipPath id="cliprd"><rect x="295.6" y="188.4" width="189.8" height="135.4"/></clipPath></defs><g stroke="#dedede" stroke-width="0.5" fill="none"><line x1="296.2" y1="317.49" x2="485.4" y2="317.49"/><line x1="296.2" y1="314.27" x2="485.4" y2="314.27"/><line x1="296.2" y1="311.98" x2="485.4" y2="311.98"/><line x1="296.2" y1="310.21" x2="485.4" y2="310.21"/><line x1="296.2" y1="308.76" x2="485.4" y2="308.76"/><line x1="296.2" y1="307.53" x2="485.4" y2="307.53"/><line x1="296.2" y1="306.47" x2="485.4" y2="306.47"/><line x1="296.2" y1="305.54" x2="485.4" y2="305.54"/><line x1="296.2" y1="304.70" x2="485.4" y2="304.70"/><line x1="296.2" y1="299.19" x2="485.4" y2="299.19"/><line x1="296.2" y1="295.97" x2="485.4" y2="295.97"/><line x1="296.2" y1="293.68" x2="485.4" y2="293.68"/><line x1="296.2" y1="291.91" x2="485.4" y2="291.91"/><line x1="296.2" y1="290.46" x2="485.4" y2="290.46"/><line x1="296.2" y1="289.23" x2="485.4" y2="289.23"/><line x1="296.2" y1="288.17" x2="485.4" y2="288.17"/><line x1="296.2" y1="287.24" x2="485.4" y2="287.24"/><line x1="296.2" y1="286.40" x2="485.4" y2="286.40"/><line x1="296.2" y1="280.89" x2="485.4" y2="280.89"/><line x1="296.2" y1="277.67" x2="485.4" y2="277.67"/><line x1="296.2" y1="275.38" x2="485.4" y2="275.38"/><line x1="296.2" y1="273.61" x2="485.4" y2="273.61"/><line x1="296.2" y1="272.16" x2="485.4" y2="272.16"/><line x1="296.2" y1="270.93" x2="485.4" y2="270.93"/><line x1="296.2" y1="269.87" x2="485.4" y2="269.87"/><line x1="296.2" y1="268.94" x2="485.4" y2="268.94"/><line x1="296.2" y1="268.10" x2="485.4" y2="268.10"/><line x1="296.2" y1="262.59" x2="485.4" y2="262.59"/><line x1="296.2" y1="259.37" x2="485.4" y2="259.37"/><line x1="296.2" y1="257.08" x2="485.4" y2="257.08"/><line x1="296.2" y1="255.31" x2="485.4" y2="255.31"/><line x1="296.2" y1="253.86" x2="485.4" y2="253.86"/><line x1="296.2" y1="252.63" x2="485.4" y2="252.63"/><line x1="296.2" y1="251.57" x2="485.4" y2="251.57"/><line x1="296.2" y1="250.64" x2="485.4" y2="250.64"/><line x1="296.2" y1="249.80" x2="485.4" y2="249.80"/><line x1="296.2" y1="244.29" x2="485.4" y2="244.29"/><line x1="296.2" y1="241.07" x2="485.4" y2="241.07"/><line x1="296.2" y1="238.78" x2="485.4" y2="238.78"/><line x1="296.2" y1="237.01" x2="485.4" y2="237.01"/><line x1="296.2" y1="235.56" x2="485.4" y2="235.56"/><line x1="296.2" y1="234.33" x2="485.4" y2="234.33"/><line x1="296.2" y1="233.27" x2="485.4" y2="233.27"/><line x1="296.2" y1="232.34" x2="485.4" y2="232.34"/><line x1="296.2" y1="231.50" x2="485.4" y2="231.50"/><line x1="296.2" y1="225.99" x2="485.4" y2="225.99"/><line x1="296.2" y1="222.77" x2="485.4" y2="222.77"/><line x1="296.2" y1="220.48" x2="485.4" y2="220.48"/><line x1="296.2" y1="218.71" x2="485.4" y2="218.71"/><line x1="296.2" y1="217.26" x2="485.4" y2="217.26"/><line x1="296.2" y1="216.03" x2="485.4" y2="216.03"/><line x1="296.2" y1="214.97" x2="485.4" y2="214.97"/><line x1="296.2" y1="214.04" x2="485.4" y2="214.04"/><line x1="296.2" y1="213.20" x2="485.4" y2="213.20"/><line x1="296.2" y1="207.69" x2="485.4" y2="207.69"/><line x1="296.2" y1="204.47" x2="485.4" y2="204.47"/><line x1="296.2" y1="202.18" x2="485.4" y2="202.18"/><line x1="296.2" y1="200.41" x2="485.4" y2="200.41"/><line x1="296.2" y1="198.96" x2="485.4" y2="198.96"/><line x1="296.2" y1="197.73" x2="485.4" y2="197.73"/><line x1="296.2" y1="196.67" x2="485.4" y2="196.67"/><line x1="296.2" y1="195.74" x2="485.4" y2="195.74"/><line x1="296.2" y1="194.90" x2="485.4" y2="194.90"/><line x1="296.2" y1="189.39" x2="485.4" y2="189.39"/><line x1="329.72" y1="189.2" x2="329.72" y2="323.0"/><line x1="349.33" y1="189.2" x2="349.33" y2="323.0"/><line x1="363.25" y1="189.2" x2="363.25" y2="323.0"/><line x1="374.04" y1="189.2" x2="374.04" y2="323.0"/><line x1="382.86" y1="189.2" x2="382.86" y2="323.0"/><line x1="390.31" y1="189.2" x2="390.31" y2="323.0"/><line x1="396.77" y1="189.2" x2="396.77" y2="323.0"/><line x1="402.47" y1="189.2" x2="402.47" y2="323.0"/><line x1="407.56" y1="189.2" x2="407.56" y2="323.0"/><line x1="441.08" y1="189.2" x2="441.08" y2="323.0"/><line x1="460.69" y1="189.2" x2="460.69" y2="323.0"/><line x1="474.61" y1="189.2" x2="474.61" y2="323.0"/></g><g clip-path="url(#clipd)" fill="none" stroke-linejoin="round" stroke-linecap="butt"><path d="M294.0,252.0 L297.0,245.4 L302.0,234.3 L308.1,225.2 L316.1,222.2 L328.2,216.2 L334.2,208.1 L342.3,200.1 L351.3,192.0 L354.0,189.5 L357.0,188.0 L360.0,190.0 L362.4,196.1 L365.4,216.2 L366.4,236.3 L367.0,256.0 L368.4,284.2 L371.5,314.4 L372.3,324.0" stroke="#606060" stroke-width="1.25" stroke-dasharray="2.4 2.2"/><path d="M297.5,324.0 L298.0,322.4 L299.0,304.3 L300.0,288.2 L303.0,278.1 L307.1,269.1 L318.1,262.0 L326.2,256.0 L332.2,242.3 L340.3,228.3 L347.3,220.2 L351.3,210.1 L355.1,200.1 L357.1,192.0 L358.4,188.5 L360.0,188.0 L362.0,192.0 L364.0,205.0 L366.0,230.0 L368.0,256.0 L370.0,290.0 L372.0,324.0" stroke="#a0a0a0" stroke-width="1.00"/><path d="M312.0,324.0 L313.1,321.4 L320.1,314.4 L327.2,304.3 L335.2,286.2 L342.3,270.1 L348.3,256.0 L352.1,240.3 L356.1,216.2 L359.1,196.0 L360.3,189.5 L363.0,196.0 L366.2,216.2 L368.2,238.3 L369.8,256.0 L373.5,284.2 L376.5,310.3 L378.5,322.4 L379.0,324.0" stroke="#4848b8" stroke-width="1.20" stroke-dasharray="2.4 2.2"/><path d="M477.5,324.0 L478.5,322.4 L485.0,308.3 L487.0,304.0" stroke="#4848b8" stroke-width="1.20" stroke-dasharray="2.4 2.2"/><path d="M350.0,324.0 L350.3,322.4 L351.3,290.2 L354.4,278.1 L356.4,254.0 L359.4,226.2 L362.4,198.1 L364.4,194.0 L368.4,216.2 L372.5,238.3 L375.0,256.0 L377.5,284.2 L380.5,310.3 L382.5,322.4 L383.0,324.0" stroke="#3f8a4f" stroke-width="1.00"/><path d="M460.5,324.0 L461.4,322.4 L468.5,310.3 L476.5,294.2 L485.0,272.1 L487.0,268.0" stroke="#3f8a4f" stroke-width="1.00"/><path d="M355.5,324.0 L356.0,322.4 L357.4,284.2 L358.4,254.0 L361.0,226.0 L364.4,197.1 L369.4,216.2 L374.5,240.3 L377.5,256.0 L382.5,284.2 L387.5,304.3 L390.0,312.4 L394.0,322.4 L394.5,324.0" stroke="#33336f" stroke-width="1.15"/><path d="M433.5,324.0 L434.3,322.4 L442.3,312.4 L450.4,302.3 L460.4,288.2 L466.5,276.1 L474.5,264.1 L480.5,254.0 L485.0,248.4 L487.0,247.0" stroke="#33336f" stroke-width="1.15"/><path d="M363.0,200.0 L366.4,206.1 L372.5,230.3 L378.5,246.4 L380.5,254.0 L386.5,274.1 L390.0,288.2 L398.0,300.3 L406.1,309.3 L410.1,311.3 L420.2,306.3 L430.2,298.3 L440.3,284.2 L450.4,272.1 L460.4,260.0 L467.0,254.0 L474.5,244.4 L482.6,236.3 L487.0,233.0" stroke="#90d890" stroke-width="1.25" stroke-dasharray="2.4 2.2"/></g><path d="M295.6,189.2 H485.4" stroke="#8a8a8a" stroke-width="1.3" fill="none"/><path d="M296.2,189.2 V323.0 H485.4" stroke="#6e6e6e" stroke-width="1.3" fill="none"/><path d="M485.4,188.6 V323.6" stroke="#3c3c3c" stroke-width="1.3" fill="none"/><path clip-path="url(#cliprd)" fill="none" stroke-linejoin="round" d="M295.0,322.9 L348.0,322.7 L350.0,320.6 L352.5,320.2 L354.5,321.8 L356.5,321.5 L358.4,314.4 L360.0,294.2 L361.4,254.0 L362.4,226.2 L364.0,192.0 L364.8,188.0 L365.5,192.0 L366.4,206.1 L367.4,226.2 L367.4,254.0 L368.8,284.2 L370.4,314.4 L372.5,321.4 L375.0,322.9 L487.0,322.9" stroke="#dc2229" stroke-width="1.65"/><line x1="296.2" y1="304.70" x2="298.2" y2="304.70" stroke="#505050" stroke-width="1"/><line x1="296.2" y1="286.40" x2="298.2" y2="286.40" stroke="#505050" stroke-width="1"/><line x1="296.2" y1="268.10" x2="298.2" y2="268.10" stroke="#505050" stroke-width="1"/><line x1="296.2" y1="249.80" x2="298.2" y2="249.80" stroke="#505050" stroke-width="1"/><line x1="296.2" y1="231.50" x2="298.2" y2="231.50" stroke="#505050" stroke-width="1"/><line x1="296.2" y1="213.20" x2="298.2" y2="213.20" stroke="#505050" stroke-width="1"/><line x1="296.2" y1="194.90" x2="298.2" y2="194.90" stroke="#505050" stroke-width="1"/><text x="294.2" y="326.9" font-size="7.3" text-anchor="end" fill="#2a2a2a">10<tspan font-size="5.2" dy="-3.4">12</tspan></text><text x="294.2" y="290.3" font-size="7.3" text-anchor="end" fill="#2a2a2a">10<tspan font-size="5.2" dy="-3.4">14</tspan></text><text x="294.2" y="253.7" font-size="7.3" text-anchor="end" fill="#2a2a2a">10<tspan font-size="5.2" dy="-3.4">16</tspan></text><text x="294.2" y="217.1" font-size="7.3" text-anchor="end" fill="#2a2a2a">10<tspan font-size="5.2" dy="-3.4">18</tspan></text><text x="296.5" y="333.8" font-size="7.3" text-anchor="middle" fill="#2a2a2a">10<tspan font-size="5.0" dy="-3.4">-3</tspan></text><text x="407.9" y="333.8" font-size="7.3" text-anchor="middle" fill="#2a2a2a">10<tspan font-size="5.0" dy="-3.4">-2</tspan></text><text x="487.7" y="194.8" font-size="6.6" fill="#dc1f2c">1.1x10<tspan font-size="4.8" dx="0.9" dy="-3.1">12</tspan></text><text x="487.6" y="259.1" font-size="6.6" fill="#dc1f2c">5.5x10<tspan font-size="4.8" dx="0.9" dy="-3.1">11</tspan></text><text x="492.2" y="324.5" font-size="6.6" fill="#dc1f2c">0.</text><rect x="447.5" y="192.4" width="34.4" height="44.2" fill="#fff" stroke="#888" stroke-width="0.9"/><line x1="449.4" y1="196.8" x2="451.6" y2="196.8" stroke="#606060" stroke-width="1.1"/><line x1="454.6" y1="196.8" x2="456.8" y2="196.8" stroke="#606060" stroke-width="1.1"/><text x="460.3" y="199.1" font-size="6.4" fill="#222">Sn IX</text><line x1="448.4" y1="203.9" x2="459.7" y2="203.9" stroke="#a0a0a0" stroke-width="1.0"/><text x="460.3" y="206.2" font-size="6.4" fill="#222">Sn X</text><line x1="449.4" y1="211.0" x2="451.6" y2="211.0" stroke="#4848b8" stroke-width="1.1"/><line x1="454.6" y1="211.0" x2="456.8" y2="211.0" stroke="#4848b8" stroke-width="1.1"/><text x="460.3" y="213.3" font-size="6.4" fill="#222">Sn XI</text><line x1="448.4" y1="218.1" x2="459.7" y2="218.1" stroke="#3f8a4f" stroke-width="1.4"/><text x="460.3" y="220.4" font-size="6.4" fill="#222">Sn XII</text><line x1="448.4" y1="225.2" x2="459.7" y2="225.2" stroke="#33336f" stroke-width="1.4"/><text x="460.3" y="227.5" font-size="6.4" fill="#222">Sn XIII</text><line x1="449.4" y1="232.3" x2="451.6" y2="232.3" stroke="#90d890" stroke-width="1.1"/><line x1="454.6" y1="232.3" x2="456.8" y2="232.3" stroke="#90d890" stroke-width="1.1"/><text x="460.3" y="234.6" font-size="6.4" fill="#222">Sn XIV</text><text x="386.7" y="200.0" font-size="12" fill="#c8182a">6 ns</text><text x="9.6" y="8.0" font-size="10" style="font-weight:normal;stroke:#1a1a1a;stroke-width:0.3px" fill="#1a1a1a">(a)</text><text x="269.0" y="8.2" font-size="10" style="font-weight:normal;stroke:#1a1a1a;stroke-width:0.3px" fill="#1a1a1a">(b)</text><text x="8.2" y="183.4" font-size="10" style="font-weight:normal;stroke:#1a1a1a;stroke-width:0.3px" fill="#1a1a1a">(c)</text><text x="268.5" y="183.6" font-size="10" style="font-weight:normal;stroke:#1a1a1a;stroke-width:0.3px" fill="#1a1a1a">(d)</text><text x="127.0" y="168.8" class="t" font-size="10.4" text-anchor="middle" fill="#111">Distance from surface, <tspan font-style="italic">cm</tspan></text><text transform="translate(13.8,80.8) rotate(-90)" class="t" font-size="10.4" text-anchor="middle" fill="#111">Species density, <tspan font-style="italic">1/cm</tspan><tspan font-size="7.8" dy="-4.4" font-style="italic">3</tspan></text><text transform="translate(253.4,80.5) rotate(-90)" class="t" font-size="9.7" text-anchor="middle" fill="#111">EUV power density, <tspan font-style="italic">W/cm</tspan><tspan font-size="6.3" dy="-5.2" font-style="italic">3</tspan></text><text x="391.1" y="168.8" class="t" font-size="10.4" text-anchor="middle" fill="#111">Distance from surface, <tspan font-style="italic">cm</tspan></text><text transform="translate(278.0,80.8) rotate(-90)" class="t" font-size="10.4" text-anchor="middle" fill="#111">Species density, <tspan font-style="italic">1/cm</tspan><tspan font-size="7.8" dy="-4.4" font-style="italic">3</tspan></text><text transform="translate(517.4,80.5) rotate(-90)" class="t" font-size="9.7" text-anchor="middle" fill="#111">EUV power density, <tspan font-style="italic">W/cm</tspan><tspan font-size="6.3" dy="-5.2" font-style="italic">3</tspan></text><text x="124.9" y="344.8" class="t" font-size="10.4" text-anchor="middle" fill="#111">Distance from surface, <tspan font-style="italic">cm</tspan></text><text transform="translate(11.9,256.9) rotate(-90)" class="t" font-size="10.4" text-anchor="middle" fill="#111">Species density, <tspan font-style="italic">1/cm</tspan><tspan font-size="7.8" dy="-4.4" font-style="italic">3</tspan></text><text transform="translate(251.1,256.6) rotate(-90)" class="t" font-size="9.7" text-anchor="middle" fill="#111">EUV power density, <tspan font-style="italic">W/cm</tspan><tspan font-size="6.3" dy="-5.2" font-style="italic">3</tspan></text><text x="391.1" y="344.8" class="t" font-size="10.4" text-anchor="middle" fill="#111">Distance from surface, <tspan font-style="italic">cm</tspan></text><text transform="translate(278.0,256.9) rotate(-90)" class="t" font-size="10.4" text-anchor="middle" fill="#111">Species density, <tspan font-style="italic">1/cm</tspan><tspan font-size="7.8" dy="-4.4" font-style="italic">3</tspan></text><text transform="translate(517.4,256.6) rotate(-90)" class="t" font-size="9.7" text-anchor="middle" fill="#111">EUV power density, <tspan font-style="italic">W/cm</tspan><tspan font-size="6.3" dy="-5.2" font-style="italic">3</tspan></text></svg></body></html>
